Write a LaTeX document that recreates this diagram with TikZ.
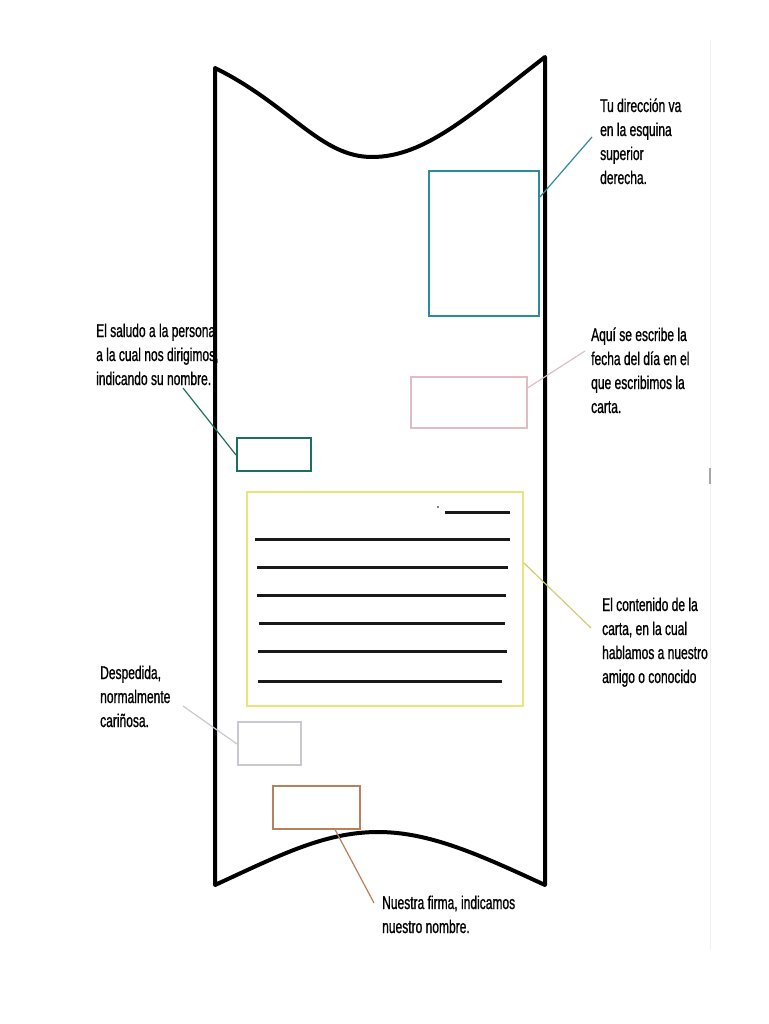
\documentclass[tikz,border=0pt]{standalone}
\usepackage{fontspec}
\setmainfont{Liberation Sans}[FakeStretch=0.65,FakeBold=0.8]
\usetikzlibrary{calc}
\definecolor{cteal}{HTML}{2E8B9A}
\definecolor{cpink}{HTML}{E2BCC4}
\definecolor{cgreen}{HTML}{1F6F5F}
\definecolor{cyellow}{HTML}{E6E67A}
\definecolor{cgray}{HTML}{C8C8D0}
\definecolor{cbrown}{HTML}{B8805C}
\begin{document}
\begin{tikzpicture}[x=1pt,y=-1pt,
  scroll/.style={line width=4pt, line join=round, line cap=round},
  callbox/.style={draw, inner sep=0pt, anchor=north west},
  label/.style={inner sep=0pt, anchor=base west, align=left,
    font=\fontsize{18.5pt}{24pt}\selectfont},
  textline/.style={line width=3pt, black!90}]
\useasboundingbox (0,0) rectangle (768,1024);
% faint page edge and stray mark
\draw[gray!12, line width=1pt] (710,40) -- (710,950);
\draw[gray!70, line width=2pt] (710,468) -- (710,484);
% scroll outline
\draw[scroll] (215,68) .. controls (290,105) and (320,157) .. (372,157)
  .. controls (425,157) and (470,115) .. (545,57)
  -- (545,885)
  .. controls (480,855) and (430,832) .. (378,832)
  .. controls (325,832) and (280,855) .. (215,885) -- cycle;
% boxes
\node[callbox, draw=cteal, line width=2pt, minimum width=110pt, minimum height=145pt] (dir) at (428,170) {};
\node[callbox, draw=cpink, line width=1.5pt, minimum width=116pt, minimum height=51pt] (fecha) at (410,376) {};
\node[callbox, draw=cgreen, line width=2pt, minimum width=74pt, minimum height=33pt] (saludo) at (236,437) {};
\node[callbox, draw=cyellow, line width=2pt, minimum width=276pt, minimum height=214pt] (cuerpo) at (246,491) {};
\node[callbox, draw=cgray, line width=1.5pt, minimum width=63pt, minimum height=43pt] (desp) at (237,721) {};
\node[callbox, draw=cbrown, line width=1.5pt, minimum width=87pt, minimum height=43pt] (firma) at (272,785) {};
% lines inside body
\fill (438,507) circle (0.9pt);
\draw[textline] (445,512) -- (510,512);
\draw[textline] (255,539) -- (510,539);
\draw[textline] (257,567) -- (508,567);
\draw[textline] (257,595) -- (506,595);
\draw[textline] (259,623) -- (505,623);
\draw[textline] (258,651) -- (507,651);
\draw[textline] (258,681) -- (502,681);
% labels (anchored at the baseline of the last line)
\node[label] (tdir) at (600,184) {Tu dirección va\\en la esquina\\superior\\derecha.};
\node[label] (tfecha) at (591,413) {Aquí se escribe la\\fecha del día en el\\que escribimos la\\carta.};
\node[label] (tsaludo) at (96,385) {El saludo a la persona\\a la cual nos dirigimos,\\indicando su nombre.};
\node[label] (tcuerpo) at (602,683) {El contenido de la\\carta, en la cual\\hablamos a nuestro\\amigo o conocido};
\node[label] (tdesp) at (100,727) {Despedida,\\normalmente\\cariñosa.};
\node[label] (tfirma) at (382,933) {Nuestra firma, indicamos\\nuestro nombre.};
% connector ends
\coordinate (edir) at (592,137);
\coordinate (efecha) at (585,351);
\coordinate (esaludo) at (183,388);
\coordinate (ecuerpo) at (591,628);
\coordinate (edesp) at (183,706);
\coordinate (efirma) at (374,903);
% connectors
\draw[cteal, line width=1.2pt] ($(dir.north east)+(0,27)$) -- (edir);
\draw[cpink, line width=1.2pt] ($(fecha.north east)+(0,12)$) -- (efecha);
\draw[cgreen, line width=1.2pt] ($(saludo.north west)+(0,18)$) -- (esaludo);
\draw[cyellow!90!black, line width=1.2pt] ($(cuerpo.north east)+(0,72)$) -- (ecuerpo);
\draw[cgray, line width=1.2pt] ($(desp.north west)+(0,23)$) -- (edesp);
\draw[cbrown, line width=1.2pt] ($(firma.south west)+(63,0)$) -- (efirma);
\end{tikzpicture}
\end{document}
